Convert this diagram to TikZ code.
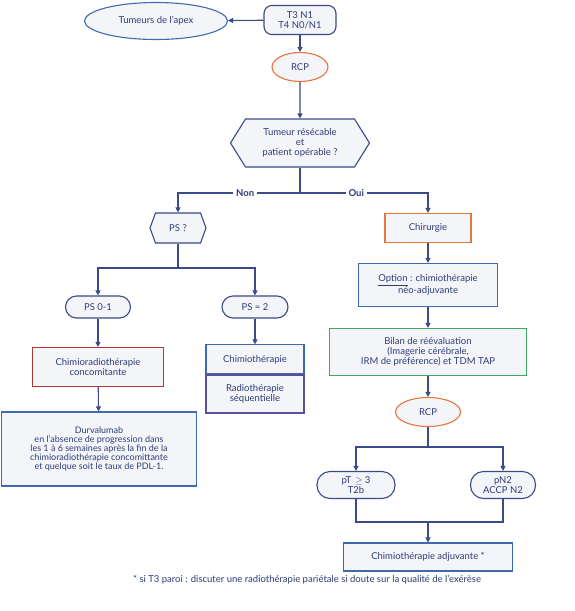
\documentclass[tikz,border=0pt]{standalone}
\usepackage{fontspec}
\setmainfont{Lato}
\usepackage{xcolor}
\definecolor{flow-navy}{HTML}{2E3C78}
\definecolor{flow-line}{HTML}{3A4B88}
\definecolor{flow-blue}{HTML}{3F6AB0}
\definecolor{flow-orange}{HTML}{E9743C}
\definecolor{flow-red}{HTML}{B23A32}
\definecolor{flow-green}{HTML}{3FA85C}
\definecolor{flow-purple}{HTML}{5C4F9C}
\definecolor{flow-fill}{HTML}{F4F5F9}
\usepackage{tikz}
\usetikzlibrary{arrows.meta,shapes.geometric,shapes.symbols}

\begin{document}
\begin{tikzpicture}[x=1pt, y=-1pt,
    every node/.style={font=\fontsize{9.5}{10}\selectfont, text=flow-navy},
    plain/.style={fill=flow-fill, line width=1.1pt, align=center, inner sep=0pt},
    box/.style={plain, rectangle, draw=flow-blue},
    pill/.style={plain, rectangle, draw=flow-line, rounded corners=11pt},
    rcp/.style={plain, ellipse, draw=flow-orange, minimum width=56pt, minimum height=29pt},
    hexa/.style={plain, signal, signal to=west and east, draw=flow-line},
    link/.style={draw=flow-line, line width=1.1pt},
    arrow/.style={link, -{Triangle[length=5pt,width=5pt]}},
    tag/.style={fill=white, inner sep=3pt, font=\fontsize{9.5}{10}\selectfont\bfseries}
]

    % Background
    \useasboundingbox (0, 0) rectangle (574, 611);
    \fill[white] (0, 0) rectangle (574, 611);

    % top
    \node[plain, ellipse, draw=flow-blue, minimum width=143pt, minimum height=37pt]
        (apex) at (156, 21) {Tumeurs de l'apex};
    \node[pill, rounded corners=8pt, minimum width=72pt, minimum height=29pt]
        (stage) at (300, 20) {T3 N1\\T4 N0/N1};
    \node[rcp] (rcp) at (300, 67) {RCP};
    \node[hexa, signal pointer angle=116, minimum width=139pt, minimum height=48pt]
        (resec) at (300, 143) {Tumeur résécable\\et\\patient opérable ?};
    \coordinate (split) at (300, 193);

    % Non branch
    \node[hexa, signal pointer angle=140, minimum width=56pt, minimum height=30pt]
        (ps) at (178, 228) {PS ?};
    \coordinate (pssplit) at (178, 268);
    \node[pill, minimum width=65pt, minimum height=22pt] (pslow) at (98, 307) {PS 0-1};
    \node[pill, minimum width=66pt, minimum height=22pt] (pshigh) at (255, 307) {PS = 2};
    \node[box, draw=flow-red, minimum width=131pt, minimum height=39pt]
        (crt) at (98, 367) {Chimioradiothérapie\\concomitante};
    \node[box, draw=flow-purple, minimum width=98pt, minimum height=38pt]
        (radio) at (255, 394) {Radiothérapie\\séquentielle};
    \node[box, minimum width=98pt, minimum height=29pt, anchor=south]
        (chimio) at (radio.north) {Chimiothérapie};
    \node[box, minimum width=195pt, minimum height=74pt, font=\fontsize{9}{9}\selectfont]
        (durva) at (99, 449) {Durvalumab\\en l'absence de progression dans\\les 1 à 6 semaines après la fin de la\\chimioradiothérapie concomittante\\et quelque soit le taux de PDL-1.};

    % Oui branch
    \node[box, draw=flow-orange, minimum width=86pt, minimum height=29pt] (chir) at (428, 228) {Chirurgie};
    \node[box, minimum width=139pt, minimum height=43pt]
        (neo) at (428, 285) {\underline{Option} : chimiothérapie\\néo-adjuvante};
    \node[box, draw=flow-green, minimum width=197pt, minimum height=47pt]
        (bilan) at (428, 352) {Bilan de réévaluation\\(Imagerie cérébrale,\\IRM de préférence) et TDM TAP};
    \node[rcp, minimum width=65pt] (rcpb) at (428, 412) {RCP};
    \coordinate (rcpsplit) at (428, 447);
    \node[pill, rounded corners=13pt, minimum width=78pt, minimum height=27pt]
        (pt) at (356, 485) {pT \,$\geq$ 3\\T2b};
    \node[pill, rounded corners=13pt, minimum width=65pt, minimum height=27pt]
        (pn) at (503, 485) {pN2\\ACCP N2};
    \coordinate (join) at (428, 522);
    \node[box, minimum width=169pt, minimum height=28pt] (adjuv) at (428, 557) {Chimiothérapie adjuvante *};

    % footnote
    \node (note) at (307, 580) {* si T3 paroi : discuter une radiothérapie pariétale si doute sur la qualité de l'exérèse};

    % links
    \draw[arrow] (stage) -- (apex);
    \draw[arrow] (stage) -- (rcp);
    \draw[arrow] (rcp) -- (resec);
    \draw[link] (resec) -- (split);
    \draw[arrow] (split) -| node[tag, pos=0.225] {Non} (ps.north);
    \draw[arrow] (split) -| node[tag, pos=0.22] {Oui} (chir.north);
    \draw[link] (ps) -- (pssplit);
    \draw[arrow] (pssplit) -| (pslow.north);
    \draw[arrow] (pssplit) -| (pshigh.north);
    \draw[arrow] (pslow) -- (crt);
    \draw[arrow] (pshigh) -- (chimio);
    \draw[arrow] (crt) -- (durva);
    \draw[arrow] (chir) -- (neo);
    \draw[arrow] (neo) -- (bilan);
    \draw[arrow] (bilan) -- (rcpb);
    \draw[link] (rcpb) -- (rcpsplit);
    \draw[arrow] (rcpsplit) -| (pt.north);
    \draw[arrow] (rcpsplit) -| (pn.north);
    \draw[link] (pt.south) |- (join);
    \draw[link] (pn.south) |- (join);
    \draw[arrow] (join) -- (adjuv);

\end{tikzpicture}
\end{document}
